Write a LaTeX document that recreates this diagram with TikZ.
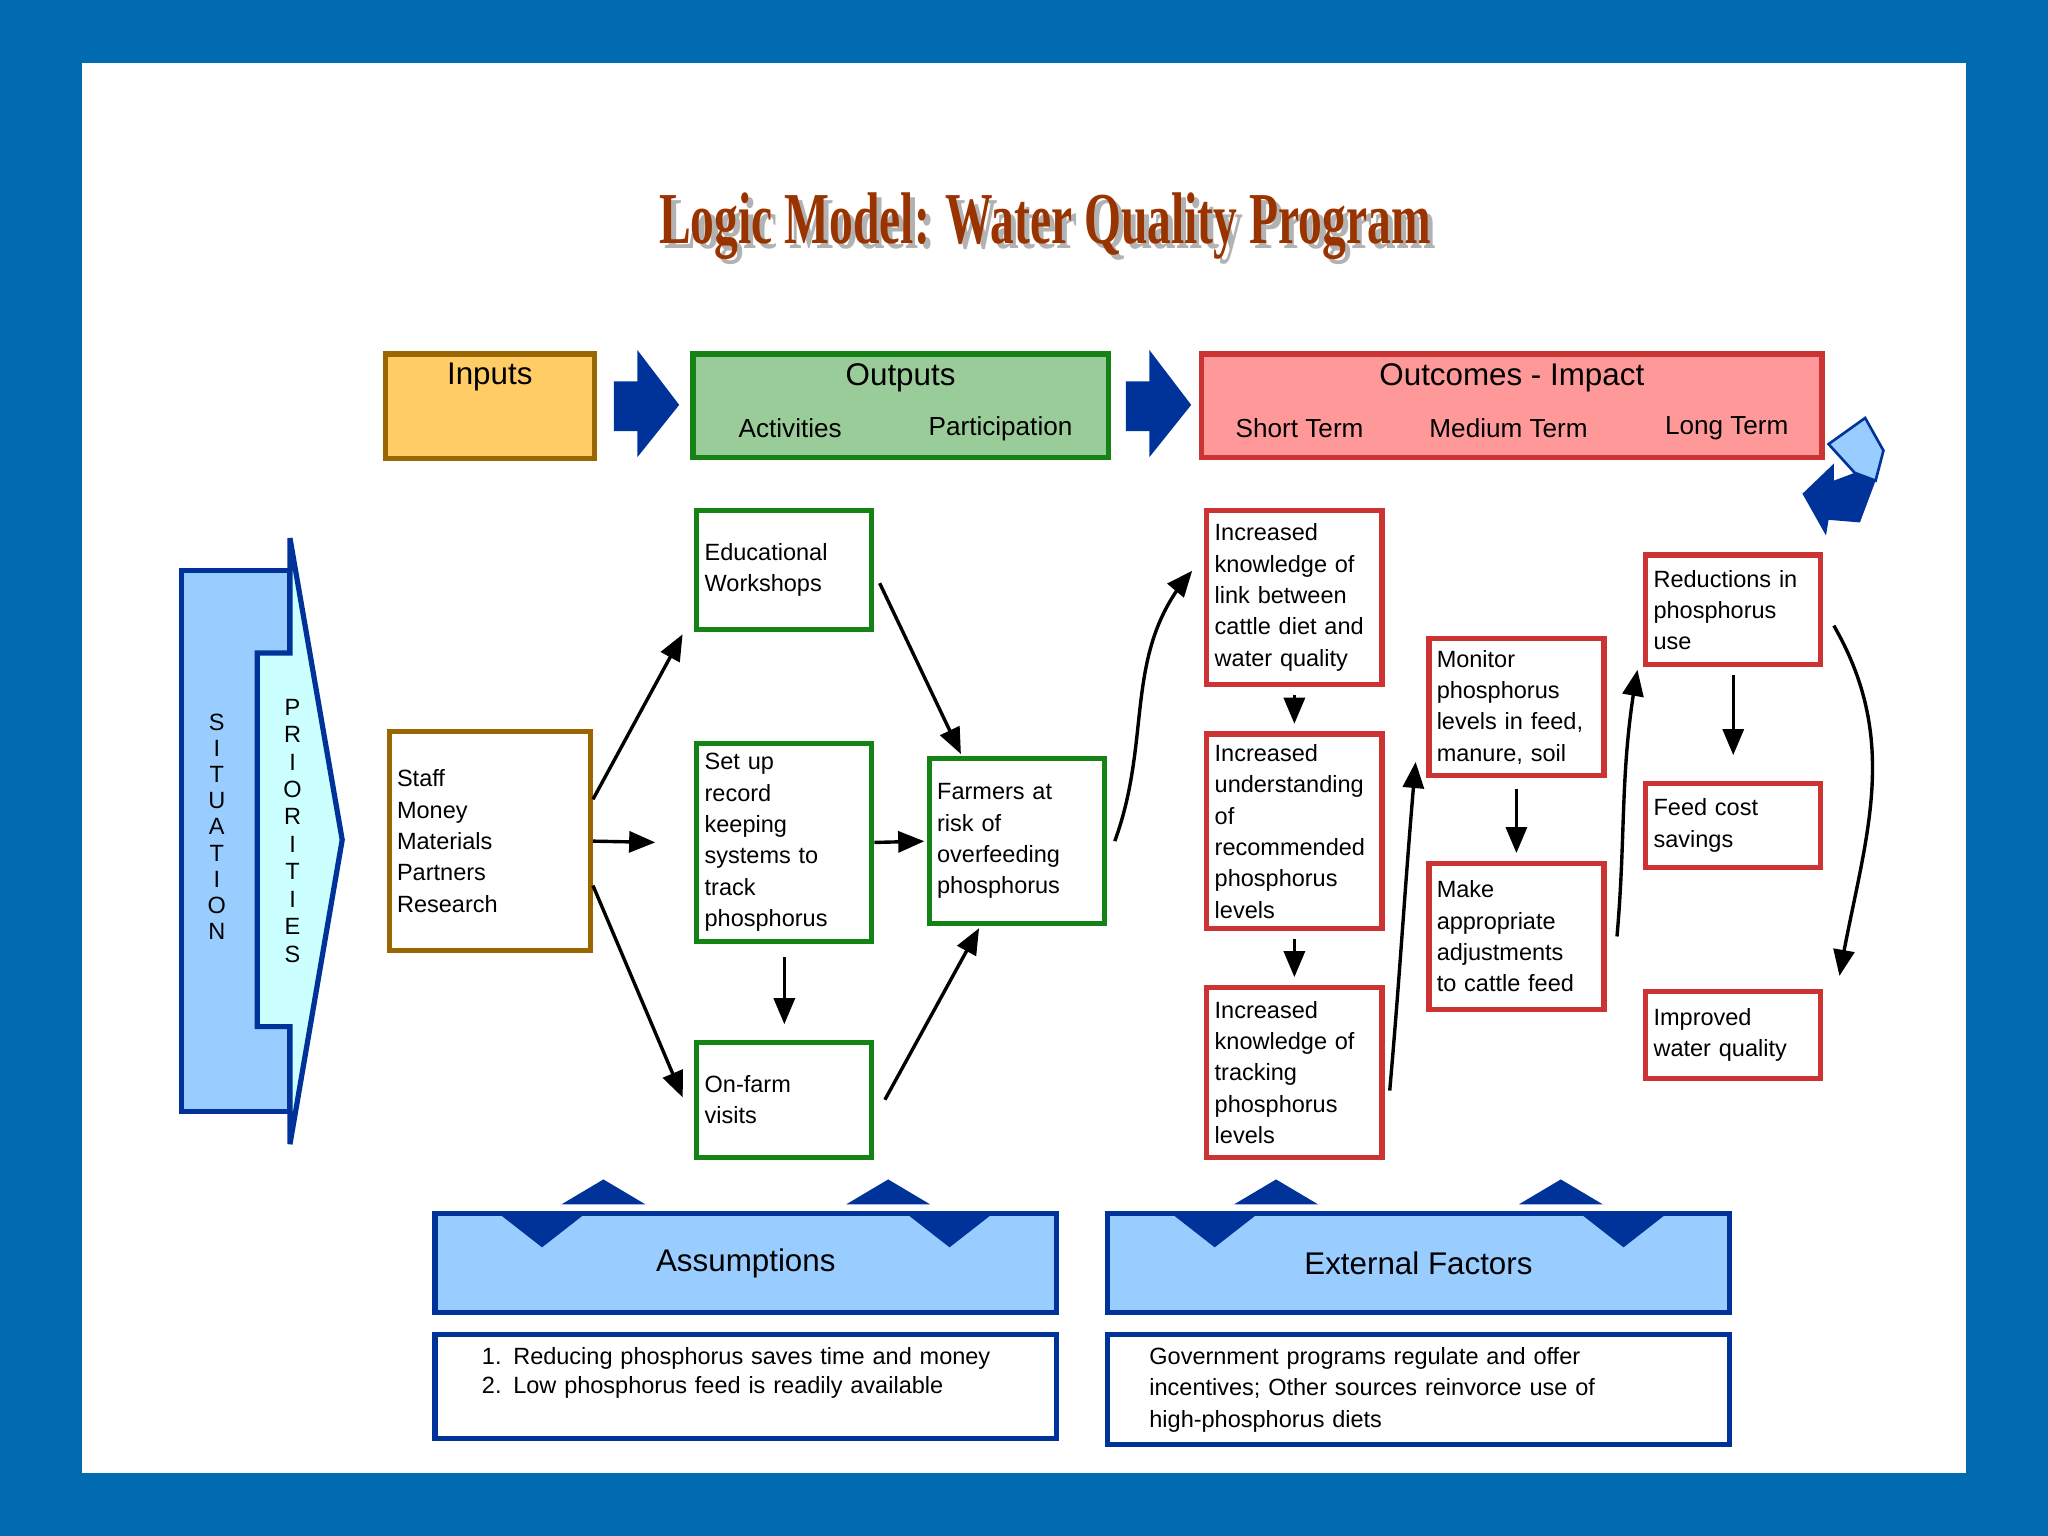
\documentclass[tikz,border=0pt]{standalone}
\usepackage{fontspec}
\setmainfont{Liberation Sans}
\newfontfamily\titlefont{Liberation Serif}
\usepackage{graphicx}
\usetikzlibrary{arrows,shapes,positioning}

\definecolor{slidebg}{RGB}{0,107,176}
\definecolor{navy}{RGB}{0,51,153}
\definecolor{skyfill}{RGB}{153,204,255}
\definecolor{cyanfill}{RGB}{204,255,255}
\definecolor{inbrown}{RGB}{153,102,0}
\definecolor{infill}{RGB}{255,204,102}
\definecolor{outgreen}{RGB}{20,130,20}
\definecolor{outfill}{RGB}{153,204,153}
\definecolor{ocred}{RGB}{204,51,51}
\definecolor{ocfill}{RGB}{255,153,153}
\definecolor{titlered}{RGB}{153,51,0}

\newcommand{\lmtitle}{\titlefont\bfseries\fontsize{28}{30}\selectfont\scalebox{0.65}[1]{Logic Model: Water Quality Program}}

\tikzset{
  box/.style={draw, line width=2pt, fill=white, align=left, inner xsep=3pt,
    font=\fontsize{9}{12}\selectfont, text width=61pt},
  gbox/.style={box, draw=outgreen},
  rbox/.style={box, draw=ocred},
  hdr/.style={draw, line width=2pt},
  bar/.style={draw=navy, line width=2pt, minimum width=238pt},
  arr/.style={-triangle 45, line width=1.3pt, shorten >=1pt}
}

\begin{document}
\begin{tikzpicture}[x=0.5pt, y=-0.5pt]
    \fill[slidebg] (0,0) rectangle (1568,1176);
    \fill[white] (63,48) rectangle (1505,1128);

    % title
    \node (title) at (800,175) {\makebox[0pt][l]{\raisebox{-2pt}{\hspace{2pt}\color{gray!60}\lmtitle}}\color{titlered}\lmtitle};

    % header row
    \node (inputs) [hdr, draw=inbrown, fill=infill, minimum width=80pt, minimum height=40pt] at (375,311) {};
    \node [below=1pt of inputs.north, font=\fontsize{12}{14}\selectfont] {Inputs};
    \node (outputs) [hdr, draw=outgreen, fill=outfill, minimum width=159pt, minimum height=39.5pt] at (689.5,310.5) {};
    \node [below=1pt of outputs.north, font=\fontsize{12}{14}\selectfont] {Outputs};
    \node (act) at (605,328) {\fontsize{10}{12}\selectfont Activities};
    \node (part) at (766,328) {\fontsize{10}{12}\selectfont Participation};
    \node (outcomes) [hdr, draw=ocred, fill=ocfill, minimum width=237.5pt, minimum height=39.5pt] at (1157.5,310.5) {};
    \node [below=1pt of outcomes.north, font=\fontsize{12}{14}\selectfont] {Outcomes - Impact};
    \node (st) at (995,328) {\fontsize{10}{12}\selectfont Short Term};
    \node (mt) at (1155,328) {\fontsize{10}{12}\selectfont Medium Term};
    \node (lt) at (1322,328) {\fontsize{10}{12}\selectfont Long Term};

    \fill[navy] (470,292) -- (488,292) -- (488,268) -- (520,310) -- (488,350) -- (488,330) -- (470,330) -- cycle;
    \fill[navy] (862,292) -- (880,292) -- (880,268) -- (912,310) -- (880,350) -- (880,330) -- (862,330) -- cycle;

    % return arrow
    \draw[navy, line width=1pt, fill=skyfill] (1400,340) -- (1428,320) -- (1442,345) -- (1436,368) -- (1420,362) -- cycle;
    \fill[navy] (1436,368) -- (1424,400) -- (1400,398) -- (1398,410) -- (1380,378) -- (1404,355) -- (1404,368) -- (1420,362) -- cycle;

    % situation / priorities
    \draw[navy, line width=2pt, fill=skyfill] (139,437) rectangle (222,851);
    \draw[navy, line width=2pt, fill=cyanfill] (222,412) -- (262,643) -- (222,876) -- (222,786) -- (197,786) -- (197,500) -- (222,500) -- cycle;
    \node (sit) at (166,633) [align=center, font=\fontsize{9}{10}\selectfont] {S\\I\\T\\U\\A\\T\\I\\O\\N};
    \node (prio) at (224,636) [align=center, font=\fontsize{9}{10.5}\selectfont] {P\\R\\I\\O\\R\\I\\T\\I\\E\\S};

    % inputs and outputs
    \node (staff) [box, draw=inbrown, text width=71pt, minimum height=84pt] at (375,644) {Staff\\Money\\Materials\\Partners\\Research};
    \node (edu) [gbox, minimum height=45.5pt] at (600.5,436.5) {Educational\\Workshops};
    \node (setup) [gbox, minimum height=76pt] at (600.5,645) {Set up\\record\\keeping\\systems to\\track\\phosphorus};
    \node (farm) [gbox, minimum height=44pt] at (600.5,842) {On-farm\\visits};
    \node (risk) [gbox, minimum height=63pt] at (778.5,644) {Farmers at\\risk of\\overfeeding\\phosphorus};

    % outcomes
    \node (link) [rbox, minimum height=66.5pt] at (991,457.5) {Increased\\knowledge of\\link between\\cattle diet and\\water quality};
    \node (under) [rbox, minimum height=74.5pt] at (991,636.5) {Increased\\understanding\\of\\recommended\\phosphorus\\levels};
    \node (track) [rbox, minimum height=65pt] at (991,821) {Increased\\knowledge of\\tracking\\phosphorus\\levels};
    \node (monitor) [rbox, minimum height=52.5pt] at (1161,541.5) {Monitor\\phosphorus\\levels in feed,\\manure, soil};
    \node (adjust) [rbox, minimum height=56pt] at (1161,717) {Make\\appropriate\\adjustments\\to cattle feed};
    \node (reduce) [rbox, minimum height=42pt] at (1327,467) {Reductions in\\phosphorus\\use};
    \node (savings) [rbox, minimum height=32pt] at (1327,632) {Feed cost\\savings};
    \node (water) [rbox, minimum height=33.5pt] at (1327,792.5) {Improved\\water quality};

    % connectors
    \draw[arr] ([yshift=16pt]staff.east) -- ([xshift=-4pt]edu.south west);
    \draw[arr] (staff.east) -- ([xshift=-14pt]setup.west);
    \draw[arr] ([yshift=-17pt]staff.east) -- ([xshift=-4pt]farm.west);
    \draw[arr] ([xshift=2pt,yshift=-5pt]edu.east) -- ([xshift=-21pt]risk.north);
    \draw[arr] (setup.east) -- (risk.west);
    \draw[arr] ([yshift=-5pt]setup.south) -- ([yshift=5pt]farm.north);
    \draw[arr] ([xshift=4pt]farm.east) -- ([xshift=-14pt]risk.south);
    \draw[arr] ([xshift=3pt]risk.east) to[out=70, in=230] ([xshift=-4pt,yshift=11pt]link.west);
    \draw[arr] ([yshift=-3pt]link.south) -- ([yshift=2pt]under.north);
    \draw[arr] ([yshift=-3pt]under.south) -- ([yshift=2pt]track.north);
    \draw[arr] ([xshift=2pt,yshift=-7pt]track.east) to[out=85, in=265] ([xshift=-4pt,yshift=-20pt]monitor.west);
    \draw[arr] ([yshift=-4pt]monitor.south) -- ([yshift=2pt]adjust.north);
    \draw[arr] ([xshift=4pt]adjust.east) to[out=85, in=260] ([xshift=-2pt]reduce.south west);
    \draw[arr] ([yshift=-3pt]reduce.south) -- ([yshift=9pt]savings.north);
    \draw[arr] ([xshift=4pt,yshift=-6pt]reduce.east) to[out=-60, in=80] ([xshift=6pt,yshift=4pt]water.north east);

    % assumptions and external factors
    \node (assum) [bar, fill=skyfill, minimum height=38pt, font=\fontsize{12}{14}\selectfont] at (571,967) {Assumptions};
    \node (assumtxt) [bar, fill=white, text width=230pt, text height=8pt, text depth=25pt, align=left, font=\fontsize{9}{11}\selectfont, anchor=north] at (571,1020) {\hspace*{14pt}1. Reducing phosphorus saves time and money\\\hspace*{14pt}2. Low phosphorus feed is readily available};
    \node (ext) [bar, fill=skyfill, minimum height=38pt, font=\fontsize{12}{14}\selectfont] at (1086,967) {External Factors};
    \node (exttxt) [bar, fill=white, minimum height=42pt, text width=230pt, align=left, font=\fontsize{9}{12}\selectfont, anchor=north] at (1086,1020) {\hspace*{12pt}Government programs regulate and offer\\\hspace*{12pt}incentives; Other sources reinvorce use of\\\hspace*{12pt}high-phosphorus diets};

    \foreach \u in {462,680,977,1195} {
      \fill[navy] (\u-32,922) -- (\u,903) -- (\u+32,922) -- cycle;
    }
    \foreach \d in {415,727,930,1243} {
      \fill[navy] (\d-32,930) -- (\d+32,930) -- (\d,955) -- cycle;
    }
\end{tikzpicture}
\end{document}
